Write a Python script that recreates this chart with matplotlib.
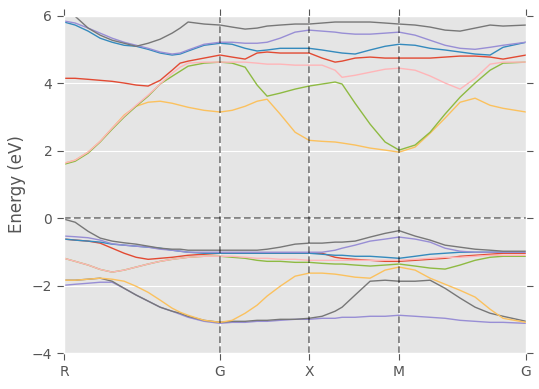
import numpy as np
import matplotlib
matplotlib.use("Agg")
import matplotlib.pyplot as plt

# k-path positions of the high symmetry points and their labels
sym_k = [0.0, 1.56, 2.45, 3.35, 4.62]
sym_labels = ["R", "G", "X", "M", "G"]

# k grid along the path
k = [0.00, 0.11, 0.24, 0.36, 0.48, 0.60, 0.72, 0.84, 0.96, 1.08, 1.16, 1.24,
     1.40, 1.56, 1.68, 1.81, 1.93, 2.03, 2.16, 2.31, 2.45, 2.58, 2.71, 2.78,
     2.91, 3.06, 3.21, 3.35, 3.51, 3.66, 3.81, 3.96, 4.11, 4.26, 4.39, 4.62]

# conduction bands (eV)
red_c = [4.15, 4.15, 4.12, 4.09, 4.06, 4.01, 3.95, 3.92, 4.09, 4.39, 4.60, 4.66,
         4.75, 4.84, 4.78, 4.72, 4.90, 4.93, 4.90, 4.90, 4.90, 4.75, 4.63, 4.66,
         4.75, 4.78, 4.75, 4.75, 4.75, 4.75, 4.78, 4.81, 4.81, 4.78, 4.72, 4.84]
blue_c = [5.82, 5.73, 5.55, 5.34, 5.22, 5.13, 5.10, 5.01, 4.90, 4.84, 4.87, 4.96,
          5.13, 5.19, 5.16, 5.04, 4.96, 4.99, 5.04, 5.04, 5.04, 4.99, 4.93, 4.90,
          4.87, 4.99, 5.10, 5.16, 5.13, 5.04, 4.99, 4.93, 4.87, 4.84, 5.07, 5.22]
purple_c = [5.85, 5.79, 5.64, 5.49, 5.34, 5.22, 5.13, 5.04, 4.93, 4.87, 4.90, 4.99,
            5.16, 5.22, 5.22, 5.19, 5.19, 5.22, 5.34, 5.52, 5.58, 5.55, 5.52, 5.49,
            5.46, 5.46, 5.49, 5.52, 5.43, 5.28, 5.13, 5.04, 5.01, 5.07, 5.13, 5.22]
gray_c = [6.20, 5.99, 5.64, 5.43, 5.28, 5.19, 5.10, 5.19, 5.31, 5.49, 5.64, 5.82,
          5.76, 5.73, 5.67, 5.61, 5.64, 5.70, 5.73, 5.76, 5.76, 5.79, 5.82, 5.82,
          5.82, 5.82, 5.79, 5.76, 5.73, 5.67, 5.58, 5.55, 5.64, 5.73, 5.70, 5.73]
yellow_c = [1.63, 1.72, 1.96, 2.28, 2.67, 3.06, 3.32, 3.44, 3.47, 3.41, 3.35, 3.29,
            3.20, 3.15, 3.20, 3.32, 3.47, 3.53, 3.09, 2.55, 2.31, 2.28, 2.26, 2.23,
            2.17, 2.08, 2.02, 1.96, 2.11, 2.52, 2.97, 3.44, 3.56, 3.35, 3.26, 3.15]
green_c = [1.60, 1.69, 1.93, 2.26, 2.64, 3.00, 3.32, 3.62, 3.98, 4.21, 4.36, 4.51,
           4.60, 4.63, 4.60, 4.48, 3.95, 3.62, 3.71, 3.83, 3.92, 3.98, 4.04, 3.98,
           3.41, 2.79, 2.26, 2.02, 2.17, 2.55, 3.09, 3.59, 4.01, 4.39, 4.60, 4.63]
pink_c = [1.63, 1.72, 1.96, 2.28, 2.67, 3.03, 3.35, 3.65, 3.98, 4.30, 4.48, 4.60,
          4.63, 4.63, 4.63, 4.63, 4.60, 4.57, 4.57, 4.54, 4.54, 4.54, 4.39, 4.18,
          4.24, 4.33, 4.42, 4.45, 4.39, 4.22, 4.01, 3.83, 4.15, 4.57, 4.63, 4.63]

# valence bands (eV)
red_v = [-0.62, -0.65, -0.68, -0.74, -0.89, -1.04, -1.16, -1.22, -1.19, -1.16, -1.13, -1.10,
         -1.07, -1.04, -1.04, -1.04, -1.04, -1.04, -1.04, -1.04, -1.04, -1.04, -1.16, -1.19,
         -1.22, -1.25, -1.28, -1.28, -1.25, -1.22, -1.19, -1.13, -1.10, -1.07, -1.04, -1.04]
blue_v = [-0.62, -0.65, -0.68, -0.71, -0.77, -0.80, -0.83, -0.86, -0.89, -0.95, -0.98, -1.01,
          -1.04, -1.04, -1.04, -1.04, -1.04, -1.04, -1.04, -1.04, -1.04, -1.07, -1.10, -1.10,
          -1.13, -1.13, -1.16, -1.19, -1.13, -1.07, -1.04, -1.01, -1.01, -1.01, -1.01, -1.01]
purple_v = [-0.53, -0.55, -0.58, -0.65, -0.76, -0.80, -0.83, -0.86, -0.92, -0.95, -0.98, -1.01,
            -1.01, -1.01, -1.01, -1.01, -1.01, -1.01, -1.01, -1.01, -1.01, -1.01, -0.95, -0.89,
            -0.80, -0.68, -0.62, -0.56, -0.62, -0.71, -0.89, -0.98, -1.01, -1.01, -1.01, -1.01]
gray_v = [-0.03, -0.12, -0.39, -0.59, -0.68, -0.73, -0.77, -0.83, -0.89, -0.92, -0.92, -0.95,
          -0.95, -0.95, -0.95, -0.95, -0.95, -0.92, -0.86, -0.77, -0.74, -0.74, -0.71, -0.71,
          -0.68, -0.56, -0.45, -0.37, -0.53, -0.65, -0.80, -0.86, -0.92, -0.95, -0.98, -0.98]
yellow_v = [-1.84, -1.84, -1.81, -1.78, -1.81, -1.87, -2.02, -2.20, -2.43, -2.67, -2.79, -2.88,
            -3.03, -3.09, -3.03, -2.82, -2.58, -2.31, -2.02, -1.72, -1.63, -1.63, -1.66, -1.69,
            -1.75, -1.78, -1.54, -1.45, -1.54, -1.78, -1.96, -2.14, -2.34, -2.70, -2.97, -3.09]
green_v = [-1.19, -1.28, -1.39, -1.52, -1.60, -1.54, -1.45, -1.36, -1.28, -1.22, -1.19, -1.16,
           -1.13, -1.13, -1.16, -1.19, -1.25, -1.28, -1.28, -1.31, -1.31, -1.34, -1.36, -1.36,
           -1.39, -1.42, -1.39, -1.36, -1.42, -1.48, -1.51, -1.39, -1.25, -1.16, -1.13, -1.13]
pink_v = [-1.19, -1.28, -1.39, -1.52, -1.60, -1.54, -1.45, -1.36, -1.28, -1.22, -1.19, -1.16,
          -1.13, -1.13, -1.13, -1.16, -1.19, -1.19, -1.22, -1.22, -1.25, -1.25, -1.25, -1.25,
          -1.25, -1.25, -1.25, -1.25, -1.22, -1.19, -1.16, -1.16, -1.13, -1.10, -1.10, -1.10]
purple_v2 = [-1.99, -1.96, -1.93, -1.90, -1.90, -2.08, -2.28, -2.46, -2.64, -2.76, -2.85, -2.94,
             -3.06, -3.12, -3.09, -3.09, -3.06, -3.06, -3.03, -3.00, -3.00, -2.97, -2.97, -2.94,
             -2.94, -2.91, -2.91, -2.88, -2.91, -2.94, -2.97, -3.03, -3.06, -3.09, -3.09, -3.12]
gray_v2 = [-1.84, -1.84, -1.81, -1.78, -1.87, -2.08, -2.28, -2.46, -2.64, -2.76, -2.82, -2.91,
           -3.03, -3.09, -3.06, -3.06, -3.03, -3.03, -3.00, -3.00, -2.97, -2.91, -2.76, -2.64,
           -2.28, -1.87, -1.84, -1.87, -1.87, -1.84, -2.08, -2.37, -2.64, -2.82, -2.91, -3.06]

plt.style.use('ggplot')
c_red, c_blue, c_purple, c_gray, c_yellow, c_green, c_pink = \
    '#E24A33', '#348ABD', '#988ED5', '#777777', '#FBC15E', '#8EBA42', '#FFB5B8'

fig = plt.figure(figsize=(5.39, 3.89), dpi=100)
ax = fig.add_axes([0.119, 0.0925, 0.857, 0.8665])

bands = [
    (red_v, c_red), (blue_v, c_blue), (purple_v, c_purple), (gray_v, c_gray),
    (purple_v2, c_purple), (gray_v2, c_gray), (yellow_v, c_yellow),
    (green_v, c_green), (pink_v, c_pink),
    (red_c, c_red), (blue_c, c_blue), (purple_c, c_purple), (gray_c, c_gray),
    (yellow_c, c_yellow), (green_c, c_green), (pink_c, c_pink),
]
for e, col in bands:
    ax.plot(k, e, color=col, lw=1.0)

for x in sym_k[1:-1]:
    ax.axvline(x, color='k', alpha=0.5, lw=1.2, ls=(0, (4, 2)))
ax.axhline(0, color='k', alpha=0.5, lw=1.2, ls=(0, (4, 2)))

ax.set_xlim(sym_k[0], sym_k[-1])
ax.set_ylim(-4, 6)
ax.set_xticks(sym_k)
ax.set_xticklabels(sym_labels)
ax.set_yticks([-4, -2, 0, 2, 4, 6])
ax.set_ylabel("Energy (eV)", fontsize=12, color='#555555')
ax.tick_params(top=True, right=True, direction='out', length=5,
               colors='#555555', labelsize=10)

plt.savefig("out.png", dpi=100)
